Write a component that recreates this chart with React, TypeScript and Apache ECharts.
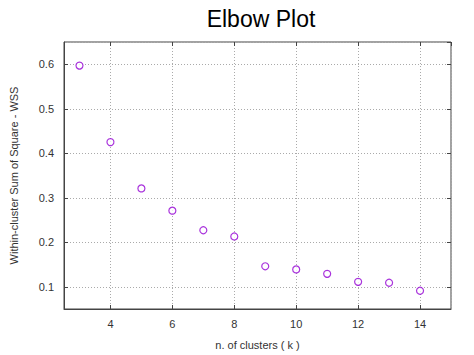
import React, { useEffect, useRef } from "react";
import * as echarts from "echarts";

const clusters = [3, 4, 5, 6, 7, 8, 9, 10, 11, 12, 13, 14];
const wss = [0.597, 0.425, 0.321, 0.271, 0.227, 0.213, 0.146, 0.139, 0.129, 0.111, 0.109, 0.091];
const titleText = "Elbow Plot";
const xName = "n. of clusters ( k )";
const yName = "Within-cluster Sum of Square - WSS";

export default function App() {
  const ref = useRef<HTMLDivElement>(null);
  useEffect(() => {
    if (!ref.current) return;
    const chart = echarts.init(ref.current, undefined, { renderer: "svg" });
    const font = "Liberation Sans, Arial, sans-serif";
    const gridLine = { show: true, lineStyle: { color: "#aaaaaa", type: [1, 2] as any, width: 1 } };
    const labelStyle = { color: "#333333", fontSize: 11, fontFamily: font };
    chart.setOption({
      animation: false,
      backgroundColor: "#ffffff",
      title: {
        text: titleText,
        left: 256,
        top: 2,
        textAlign: "center",
        textStyle: { fontSize: 23, fontWeight: "normal", color: "#000000", fontFamily: font },
      },
      grid: {
        left: 62,
        right: 23,
        top: 42,
        bottom: 45,
        show: true,
        borderColor: "#444444",
        borderWidth: 1,
      },
      xAxis: [
        {
          type: "value",
          min: 2.5,
          max: 15,
          splitNumber: 6,
          axisLine: { show: true, onZero: false, lineStyle: { color: "#444444" } },
          axisTick: { show: true, inside: true, length: 4, lineStyle: { color: "#444444" } },
          axisLabel: { ...labelStyle, margin: 9, showMinLabel: false, showMaxLabel: false },
          splitLine: gridLine,
          name: xName,
          nameLocation: "middle",
          nameGap: 30,
          nameTextStyle: { color: "#333333", fontSize: 11, fontFamily: font },
        },
        {
          type: "value",
          position: "top",
          min: 2.5,
          max: 15,
          splitNumber: 6,
          axisLine: { show: false },
          axisTick: { show: true, inside: true, length: 4, lineStyle: { color: "#444444" } },
          axisLabel: { show: false },
          splitLine: { show: false },
        },
      ],
      yAxis: [
        {
          type: "value",
          min: 0.05,
          max: 0.65,
          splitNumber: 6,
          axisLine: { show: true, onZero: false, lineStyle: { color: "#444444" } },
          axisTick: { show: true, inside: true, length: 4, lineStyle: { color: "#444444" } },
          axisLabel: { ...labelStyle, margin: 10, showMinLabel: false, showMaxLabel: false },
          splitLine: gridLine,
          name: yName,
          nameLocation: "middle",
          nameGap: 45,
          nameTextStyle: { color: "#333333", fontSize: 11, fontFamily: font },
        },
        {
          type: "value",
          position: "right",
          min: 0.05,
          max: 0.65,
          splitNumber: 6,
          axisLine: { show: false },
          axisTick: { show: true, inside: true, length: 4, lineStyle: { color: "#444444" } },
          axisLabel: { show: false },
          splitLine: { show: false },
        },
      ],
      series: [
        {
          type: "scatter",
          xAxisIndex: 0,
          yAxisIndex: 0,
          data: clusters.map((c, i) => [c, wss[i]]),
          symbol: "circle",
          symbolSize: 7,
          itemStyle: { color: "#ffffff", borderColor: "#9400d3", borderWidth: 1.2 },
        },
      ],
    });
    return () => chart.dispose();
  }, []);
  return <div ref={ref} style={{ width: 474, height: 355, position: "absolute", left: 0, top: 0 }} />;
}
